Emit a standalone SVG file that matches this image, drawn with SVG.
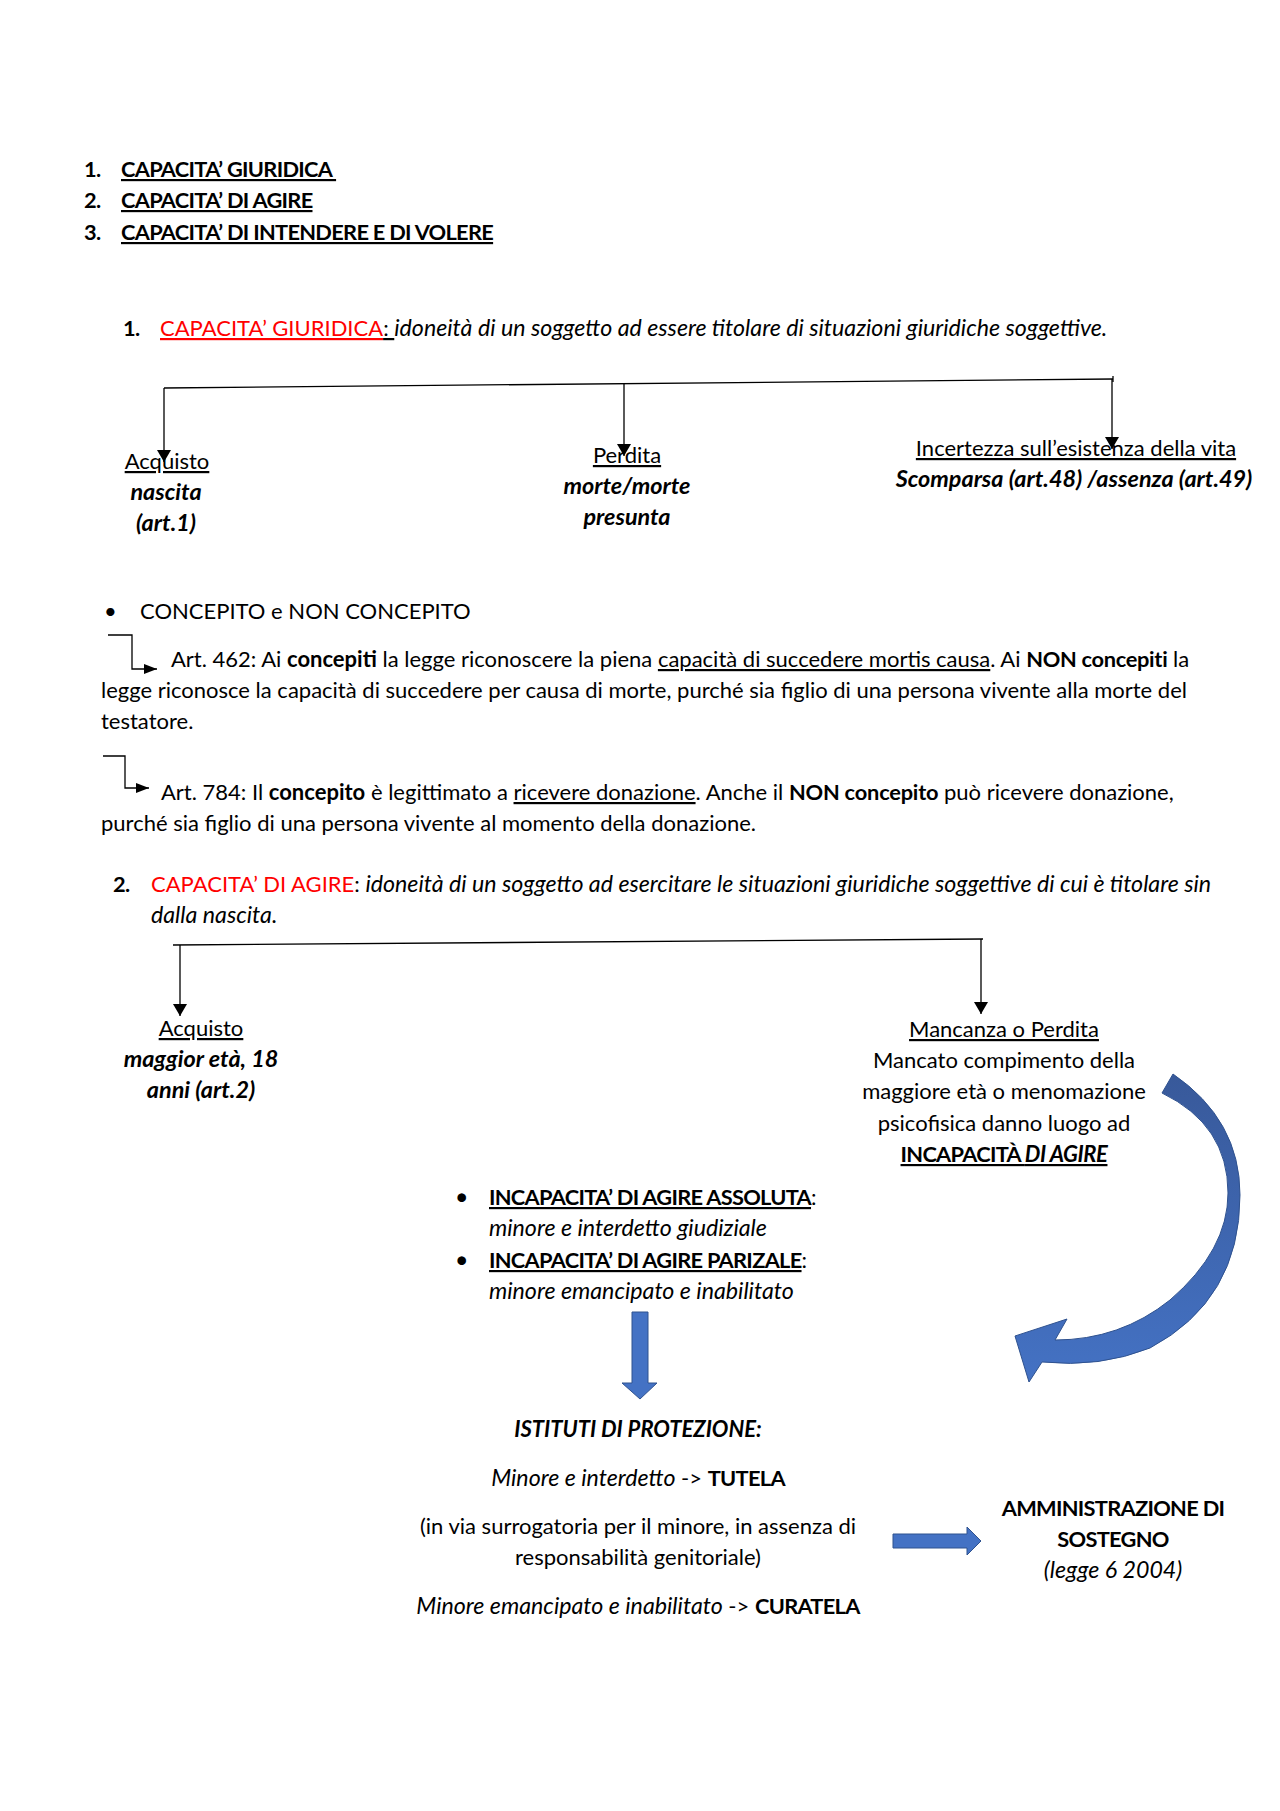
<svg xmlns="http://www.w3.org/2000/svg" width="1280" height="1811" viewBox="0 0 1280 1811">
<style>
text{font-family:Lato,"Liberation Sans",sans-serif;font-size:22px;fill:#000}
.b{font-weight:bold;font-size:21.8px;letter-spacing:-0.7px}
.i{font-style:italic;font-size:23.2px}
.b.i{font-size:23.4px;letter-spacing:0}
.lc{letter-spacing:0;font-size:22px}
.u{text-decoration:underline}
.r{fill:#FF0000}
.m{text-anchor:middle}
.ln{stroke:#000;stroke-width:1.3;fill:none}
.blue{fill:#4472C4;stroke:#2F528F;stroke-width:1}
</style>
<defs>
<marker id="ah" markerUnits="userSpaceOnUse" markerWidth="12" markerHeight="14" refX="12" refY="7" orient="auto">
<path d="M0,0 L12,7 L0,14 z" fill="#000"/>
</marker>
<marker id="ah2" markerUnits="userSpaceOnUse" markerWidth="13" markerHeight="10" refX="13" refY="5" orient="auto">
<path d="M0,0 L13,5 L0,10 z" fill="#000"/>
</marker>
<linearGradient id="cg" x1="0" y1="0" x2="0" y2="1">
<stop offset="0" stop-color="#38599A"/>
<stop offset="1" stop-color="#4472C4"/>
</linearGradient>
</defs>
<rect width="1280" height="1811" fill="#fff"/>

<g id="toc">
<text class="b" x="84" y="177">1.</text>
<text class="b u" x="121" y="177" xml:space="preserve">CAPACITA’ GIURIDICA </text>
<text class="b" x="84" y="208">2.</text>
<text class="b u" x="121" y="208">CAPACITA’ DI AGIRE</text>
<text class="b" x="84" y="240">3.</text>
<text class="b u" x="121" y="240">CAPACITA’ DI INTENDERE E DI VOLERE</text>
</g>

<g id="sec1-title">
<text class="b" x="123" y="336">1.</text>
<text x="160" y="336" xml:space="preserve"><tspan class="r u">CAPACITA’ GIURIDICA</tspan><tspan class="u">: </tspan><tspan class="i">idoneità di un soggetto ad essere titolare di situazioni giuridiche soggettive.</tspan></text>
</g>

<g id="connectors">
<line class="ln" x1="164" y1="388" x2="1113" y2="379"/>
<line class="ln" x1="1113" y1="376" x2="1113" y2="382"/>
<line class="ln" x1="164" y1="388" x2="164" y2="462" marker-end="url(#ah)"/>
<line class="ln" x1="624" y1="384" x2="624" y2="456" marker-end="url(#ah)"/>
<line class="ln" x1="1112" y1="379" x2="1112" y2="449" marker-end="url(#ah)"/>
<polyline class="ln" points="108,635 132,635 132,669 157,669" marker-end="url(#ah2)"/>
<polyline class="ln" points="103,756 125,756 125,788 149,788" marker-end="url(#ah2)"/>
<line class="ln" x1="173" y1="945" x2="983" y2="939"/>
<line class="ln" x1="180" y1="945" x2="180" y2="1016" marker-end="url(#ah)"/>
<line class="ln" x1="981" y1="939" x2="981" y2="1014" marker-end="url(#ah)"/>
<polygon class="blue" points="632,1312 648,1312 648,1383 657,1383 640,1399 622,1383 632,1383"/>
<polygon class="blue" points="893,1534 967,1534 967,1527 981,1541 967,1555 967,1548 893,1548"/>
<path d="M1173,1074 Q1240,1120 1240,1195 Q1240,1300 1150,1348 Q1100,1368 1042,1362 L1029,1382 L1015,1336 L1067,1319 L1055,1340 Q1120,1340 1170,1300 Q1228,1250 1228,1193 Q1228,1125 1162,1093 Z" fill="url(#cg)" stroke="#2F528F" stroke-width="1"/>
</g>

<g id="acquisto1">
<text class="u m" x="167" y="469">Acquisto</text>
<text class="b i m" x="166" y="500">nascita</text>
<text class="b i m" x="166" y="531">(art.1)</text>
</g>
<g id="perdita1">
<text class="u m" x="627" y="463">Perdita</text>
<text class="b i m" x="627" y="494">morte/morte</text>
<text class="b i m" x="627" y="525">presunta</text>
</g>
<g id="incertezza">
<text class="u m" x="1076" y="456">Incertezza sull’esistenza della vita</text>
<text class="b i m" x="1074" y="487">Scomparsa (art.48) /assenza (art.49)</text>
</g>

<g id="concepito">
<text x="104" y="619">•</text>
<text x="140" y="619">CONCEPITO e NON CONCEPITO</text>
</g>
<g id="art462">
<text x="171" y="667" xml:space="preserve">Art. 462: Ai <tspan class="b lc">concepiti</tspan> la legge riconoscere la piena <tspan class="u">capacità di succedere mortis causa</tspan>. Ai <tspan class="b" style="letter-spacing:-0.3px">NON concepiti</tspan> la</text>
<text x="101" y="698">legge riconosce la capacità di succedere per causa di morte, purché sia figlio di una persona vivente alla morte del</text>
<text x="101" y="729">testatore.</text>
</g>
<g id="art784">
<text x="161" y="800" xml:space="preserve">Art. 784: Il <tspan class="b lc">concepito</tspan> è legittimato a <tspan class="u">ricevere donazione</tspan>. Anche il <tspan class="b" style="letter-spacing:-0.2px">NON concepito</tspan> può ricevere donazione,</text>
<text x="101" y="831">purché sia figlio di una persona vivente al momento della donazione.</text>
</g>

<g id="sec2-title">
<text class="b" x="113" y="892">2.</text>
<text x="151" y="892" xml:space="preserve"><tspan class="r">CAPACITA’ DI AGIRE</tspan>: <tspan class="i">idoneità di un soggetto ad esercitare le situazioni giuridiche soggettive di cui è titolare sin</tspan></text>
<text class="i" x="151" y="923">dalla nascita.</text>
</g>

<g id="acquisto2">
<text class="u m" x="201" y="1036">Acquisto</text>
<text class="b i m" x="201" y="1067">maggior età, 18</text>
<text class="b i m" x="201" y="1098">anni (art.2)</text>
</g>
<g id="mancanza">
<text class="u m" x="1004" y="1037">Mancanza o Perdita</text>
<text class="m" x="1004" y="1068">Mancato compimento della</text>
<text class="m" x="1004" y="1099">maggiore età o menomazione</text>
<text class="m" x="1004" y="1131">psicofisica danno luogo ad</text>
<text class="m b u" x="1004" y="1162" xml:space="preserve">INCAPACITÀ <tspan class="i" style="font-size:22px;letter-spacing:-0.4px">DI AGIRE</tspan></text>
</g>

<g id="incapacita">
<text class="i" x="455" y="1205">•</text>
<text x="489" y="1205"><tspan class="b u">INCAPACITA’ DI AGIRE ASSOLUTA</tspan>:</text>
<text class="i" x="489" y="1236">minore e interdetto giudiziale</text>
<text class="i" x="455" y="1268">•</text>
<text x="489" y="1268"><tspan class="b u">INCAPACITA’ DI AGIRE PARIZALE</tspan>:</text>
<text class="i" x="489" y="1299">minore emancipato e inabilitato</text>
</g>

<g id="istituti">
<text class="b i m" x="638" y="1437" style="font-size:22px">ISTITUTI DI PROTEZIONE:</text>
<text class="m" x="638" y="1486" xml:space="preserve"><tspan class="i">Minore e interdetto</tspan> -&gt; <tspan class="b">TUTELA</tspan></text>
<text class="m" x="638" y="1534">(in via surrogatoria per il minore, in assenza di</text>
<text class="m" x="638" y="1565">responsabilità genitoriale)</text>
<text class="m" x="638" y="1614" xml:space="preserve"><tspan class="i">Minore emancipato e inabilitato</tspan> -&gt; <tspan class="b">CURATELA</tspan></text>
</g>

<g id="amministrazione">
<text class="b m" x="1113" y="1516">AMMINISTRAZIONE DI</text>
<text class="b m" x="1113" y="1547">SOSTEGNO</text>
<text class="i m" x="1113" y="1578">(legge 6 2004)</text>
</g>
</svg>
